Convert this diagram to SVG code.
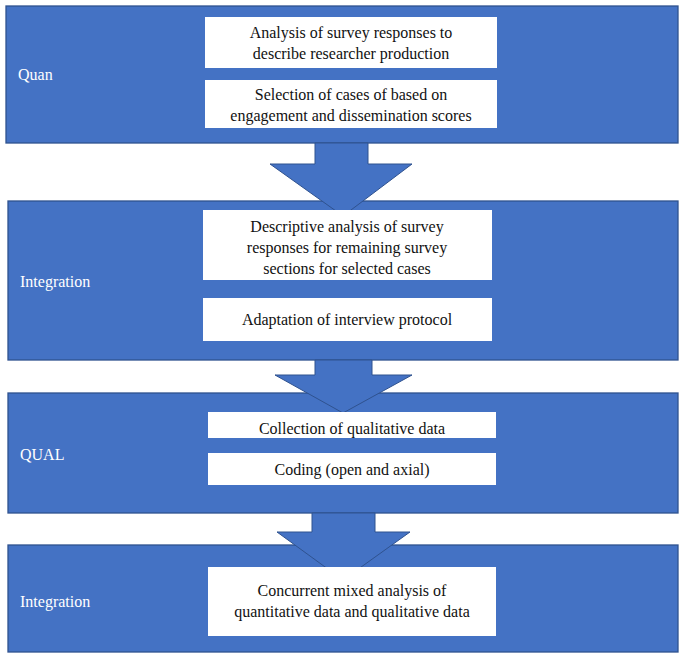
<svg xmlns="http://www.w3.org/2000/svg" width="685" height="658" viewBox="0 0 685 658">
<style>
.band{fill:#4472C4;stroke:#2F528F;stroke-width:1.3}
.arr{fill:#4472C4;stroke:#2F528F;stroke-width:1}
.box{fill:#fff}
text{font-family:"Liberation Serif",serif;font-size:16px;fill:#111}
.lbl{fill:#fff}
.c{text-anchor:middle}
</style>
<rect width="685" height="658" fill="#fff"/>
<g id="band1"><rect class="band" x="6" y="6" width="672" height="137"/><text class="lbl" x="18" y="80">Quan</text></g>
<g id="band2"><rect class="band" x="8" y="201" width="670" height="159"/><text class="lbl" x="20" y="287">Integration</text></g>
<g id="band3"><rect class="band" x="8" y="393" width="670" height="120"/><text class="lbl" x="20" y="460">QUAL</text></g>
<g id="band4"><rect class="band" x="8" y="545" width="670" height="107"/><text class="lbl" x="20" y="607">Integration</text></g>
<g id="connectors">
<polygon class="arr" points="315,143 368,143 368,164 412,164 343,216 270,164 315,164"/>
<polygon class="arr" points="315,360 372,360 372,375 412,375 343,413 275,375 315,375"/>
<polygon class="arr" points="312,513 375,513 375,532 410,532 343,580 277,532 312,532"/>
</g>
<g id="n1"><rect class="box" x="205" y="17" width="292" height="51"/><text class="c" x="351" y="38">Analysis of survey responses to</text><text class="c" x="351" y="59">describe researcher production</text></g>
<g id="n2"><rect class="box" x="205" y="80" width="292" height="48"/><text class="c" x="351" y="100">Selection of cases of based on</text><text class="c" x="351" y="121">engagement and dissemination scores</text></g>
<g id="n3"><rect class="box" x="203" y="210" width="289" height="70"/><text class="c" x="347" y="232">Descriptive analysis of survey</text><text class="c" x="347" y="253">responses for remaining survey</text><text class="c" x="347" y="274">sections for selected cases</text></g>
<g id="n4"><rect class="box" x="203" y="298" width="289" height="43"/><text class="c" x="347" y="325">Adaptation of interview protocol</text></g>
<g id="n5"><rect class="box" x="208" y="412" width="288" height="26"/><text class="c" x="352" y="434">Collection of qualitative data</text></g>
<g id="n6"><rect class="box" x="208" y="453" width="288" height="32"/><text class="c" x="352" y="475">Coding (open and axial)</text></g>
<g id="n7"><rect class="box" x="208" y="567" width="288" height="69"/><text class="c" x="352" y="596">Concurrent mixed analysis of</text><text class="c" x="352" y="617">quantitative data and qualitative data</text></g>
</svg>
